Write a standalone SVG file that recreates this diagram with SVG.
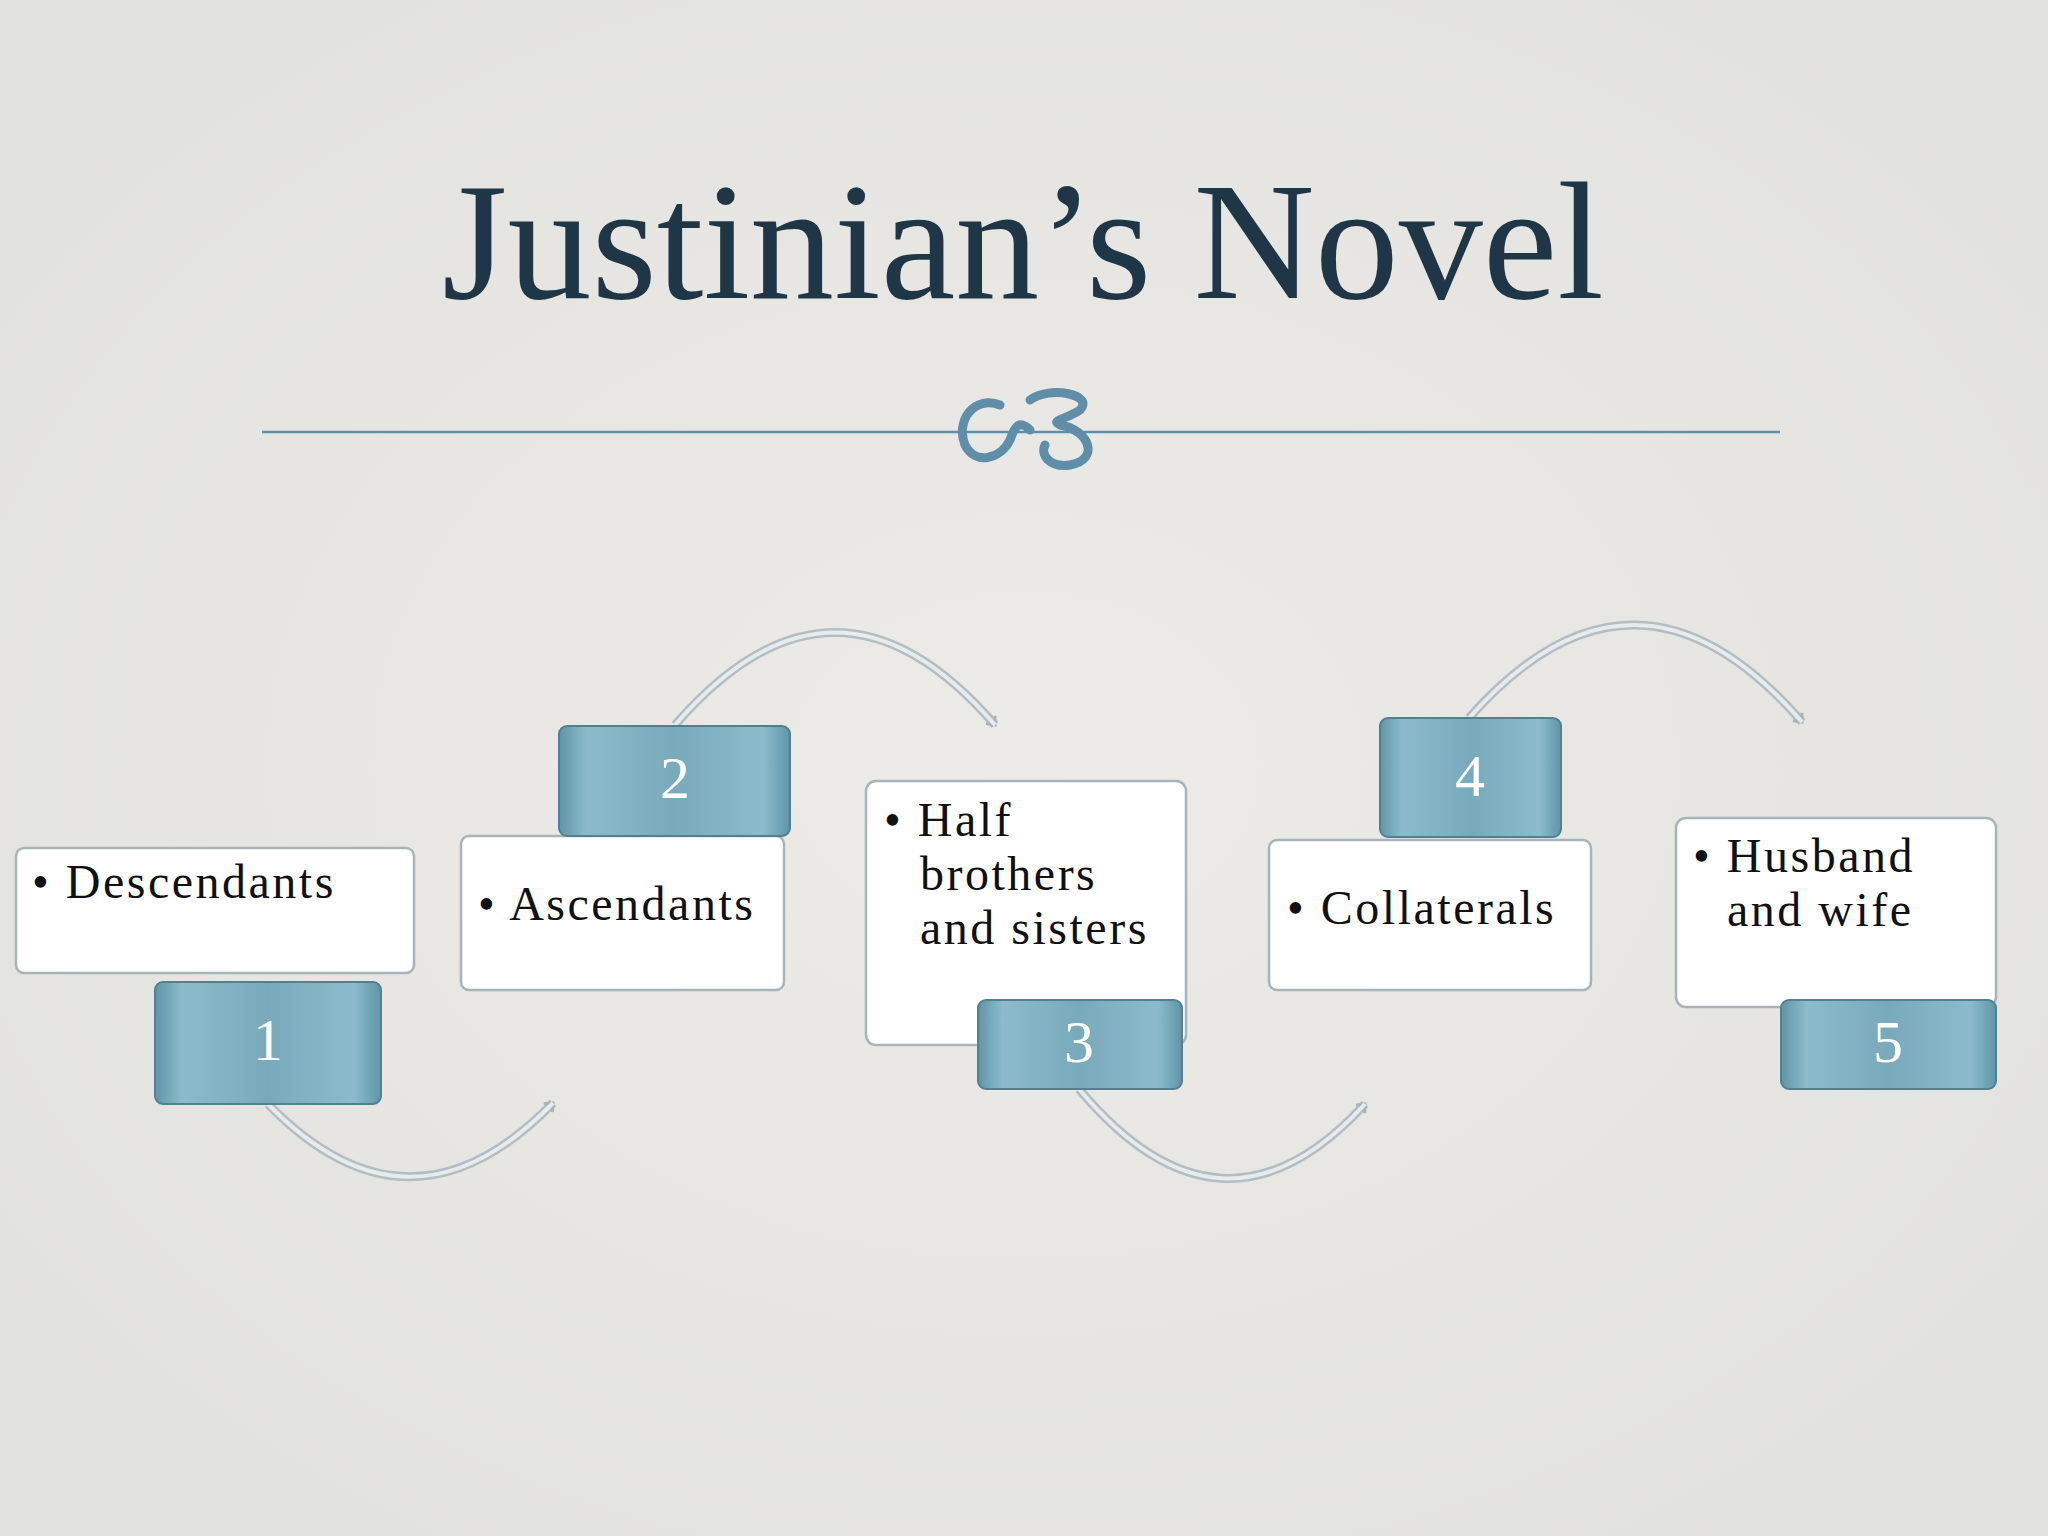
<svg xmlns="http://www.w3.org/2000/svg" width="2048" height="1536" viewBox="0 0 2048 1536">
<defs>
<radialGradient id="bg" cx="0.5" cy="0.5" r="0.75"><stop offset="0" stop-color="#ecebe8"/><stop offset="1" stop-color="#e0e0dc"/></radialGradient>
<linearGradient id="num" x1="0" y1="0" x2="1" y2="0"><stop offset="0" stop-color="#5f95a8"/><stop offset="0.12" stop-color="#8cbccb"/><stop offset="0.5" stop-color="#79aabb"/><stop offset="0.88" stop-color="#8cbccb"/><stop offset="1" stop-color="#5f95a8"/></linearGradient>
<marker id="ah" markerWidth="20" markerHeight="20" refX="10" refY="10" orient="auto" markerUnits="userSpaceOnUse"><path d="M3,4 L10,10 L3,16" fill="none" stroke="#aab4b8" stroke-width="3"/></marker>
<style>
.box{fill:#ffffff;stroke:#a9b4b8;stroke-width:2.5}
.nb{fill:url(#num);stroke:#52808f;stroke-width:2}
.t{font-family:"Liberation Serif","DejaVu Serif",serif;font-size:48px;letter-spacing:2.5px;fill:#111}
.n{font-family:"Liberation Serif","DejaVu Serif",serif;font-size:60px;fill:#ffffff;text-anchor:middle}
.arc{fill:none;stroke:#b4bec2;stroke-width:9}
.arci{fill:none;stroke:#e6ecee;stroke-width:4}
</style>
</defs>
<rect width="2048" height="1536" fill="url(#bg)"/>
<text x="1023" y="298" text-anchor="middle" font-family="Liberation Serif,serif" font-size="168" fill="#1e3646">Justinian’s Novel</text>
<line x1="262" y1="432" x2="1780" y2="432" stroke="#5f8fa8" stroke-width="2.5"/>
<g id="ornament" fill="none" stroke="#5f8fa8" stroke-width="9" stroke-linecap="round">
<path d="M1000,405 C975,395 955,420 965,445 C975,465 1000,460 1010,440 C1015,425 1020,420 1030,430"/>
<path d="M1030,400 C1050,385 1095,395 1080,410 C1065,420 1050,420 1060,425 C1090,430 1100,460 1070,465 C1050,468 1040,455 1045,445"/>
</g>
<g id="connectors">
<path class="arc" d="M268,1104 Q410,1250 553,1103" marker-end="url(#ah)"/>
<path class="arci" d="M268,1104 Q410,1250 553,1103"/>
<path class="arc" d="M675,725 Q835,540 995,725" marker-end="url(#ah)"/>
<path class="arci" d="M675,725 Q835,540 995,725"/>
<path class="arc" d="M1079,1089 Q1222,1260 1365,1104" marker-end="url(#ah)"/>
<path class="arci" d="M1079,1089 Q1222,1260 1365,1104"/>
<path class="arc" d="M1469,718 Q1635,530 1802,722" marker-end="url(#ah)"/>
<path class="arci" d="M1469,718 Q1635,530 1802,722"/>
</g>
<g id="node1"><rect class="box" x="16" y="848" width="398" height="125" rx="8"/><text class="t" x="32" y="898">• Descendants</text>
<rect class="nb" x="155" y="982" width="226" height="122" rx="8"/><text class="n" x="268" y="1060">1</text></g>
<g id="node2"><rect class="box" x="461" y="836" width="323" height="154" rx="8"/><text class="t" x="478" y="920">• Ascendants</text>
<rect class="nb" x="559" y="726" width="231" height="110" rx="8"/><text class="n" x="675" y="798">2</text></g>
<g id="node3"><rect class="box" x="866" y="781" width="320" height="264" rx="10"/>
<text class="t" x="884" y="836">• Half</text><text class="t" x="920" y="890">brothers</text><text class="t" x="920" y="944">and sisters</text>
<rect class="nb" x="978" y="1000" width="204" height="89" rx="8"/><text class="n" x="1079" y="1062">3</text></g>
<g id="node4"><rect class="box" x="1269" y="840" width="322" height="150" rx="8"/><text class="t" x="1287" y="924">• Collaterals</text>
<rect class="nb" x="1380" y="718" width="181" height="119" rx="8"/><text class="n" x="1470" y="796">4</text></g>
<g id="node5"><rect class="box" x="1676" y="818" width="320" height="189" rx="10"/>
<text class="t" x="1693" y="872">• Husband</text><text class="t" x="1727" y="926">and wife</text>
<rect class="nb" x="1781" y="1000" width="215" height="89" rx="8"/><text class="n" x="1888" y="1062">5</text></g>
</svg>
